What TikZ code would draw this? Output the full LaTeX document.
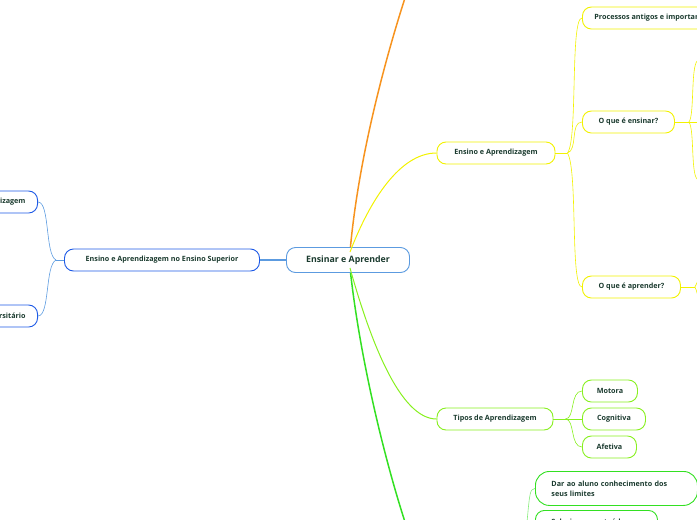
\documentclass[tikz,border=0pt]{standalone}
\usepackage{fontspec}
\setmainfont{Open Sans}
\definecolor{txt}{HTML}{1B3B2F}
\definecolor{cblue}{HTML}{1E5AE6}
\definecolor{lblue}{HTML}{5C9BE0}
\definecolor{cyel}{HTML}{F2F200}
\definecolor{lgreen}{HTML}{88F020}
\definecolor{cgreen}{HTML}{33E022}
\definecolor{corange}{HTML}{F7931E}
\tikzset{
 nd/.style={draw,rounded corners=9pt,line width=0.9pt,fill=white,text=txt,font=\bfseries\fontsize{7.2}{10}\selectfont,inner xsep=12pt,minimum height=22pt,align=left},
 yl/.style={nd,draw=cyel},
 bl/.style={nd,draw=cblue},
 lg/.style={nd,draw=lgreen},
 gr/.style={nd,draw=cgreen},
 cn/.style={line width=0.6pt},
}
\begin{document}
\begin{tikzpicture}[x=1pt,y=-1pt]
\useasboundingbox (0,0) rectangle (697,520);
\clip (0,0) rectangle (697,520);
% main branches
\coordinate (top) at (405,-2);
\coordinate (bot) at (405,522);
\draw[corange,line width=1.5pt] (350,252) .. controls (358,160) and (385,60) .. (top);
\draw[cgreen,line width=1.5pt] (350,268) .. controls (360,360) and (385,460) .. (bot);
\node[nd,draw=lblue,font=\bfseries\fontsize{8.8}{10}\selectfont,minimum height=25pt,minimum width=123pt] (c) at (348,260) {Ensinar e Aprender};
% left
\node[bl,minimum width=195pt] (es) at (162,260) {Ensino e Aprendizagem no Ensino Superior};
\node[bl,anchor=east] (l1) at (38,202) {Ensino e Aprendizagem};
\node[bl,anchor=east] (l2) at (38,316) {Docente Universitário};
\draw[lblue,line width=1.2pt] (c.west) -- (es.east);
\draw[lblue,cn] (es.west) -- ++(-8,0) coordinate (lb);
\draw[lblue,cn] (lb) .. controls (45,255) and (50,202) .. (l1.east);
\draw[lblue,cn] (lb) .. controls (45,265) and (50,316) .. (l2.east);
% yellow
\node[yl,minimum width=118pt] (ea) at (496,153) {Ensino e Aprendizagem};
\draw[cyel,line width=1pt] (350,252) .. controls (370,200) and (400,153) .. (ea.west);
\node[yl,anchor=west] (p1) at (582,18) {Processos antigos e importantes};
\node[yl,anchor=west,minimum width=92pt] (p2) at (582,122) {O que é ensinar?};
\node[yl,anchor=west,minimum width=98pt] (p3) at (582,287) {O que é aprender?};
\draw[cyel,cn] (ea.east) -- ++(12,0) coordinate (yb);
\draw[cyel,cn] (yb) .. controls (578,140) and (570,18) .. (p1.west);
\draw[cyel,cn] (yb) .. controls (578,150) and (570,122) .. (p2.west);
\draw[cyel,cn] (yb) .. controls (578,170) and (570,287) .. (p3.west);
\draw[cyel,cn] (p2.east) -- ++(14,0) coordinate (y2);
\coordinate (e1) at (699,60); \coordinate (e2) at (699,122); \coordinate (e3) at (699,180);
\draw[cyel,cn] (y2) .. controls (695,115) and (690,60) .. (e1);
\draw[cyel,cn] (y2) -- (e2);
\draw[cyel,cn] (y2) .. controls (695,130) and (690,180) .. (e3);
\draw[cyel,cn] (p3.east) -- ++(14,0) coordinate (y3);
\coordinate (e4) at (699,278); \coordinate (e5) at (699,300);
\draw[cyel,cn] (y3) .. controls (696,285) .. (e4);
\draw[cyel,cn] (y3) .. controls (696,289) .. (e5);
% light green
\node[lg,minimum width=116pt] (tp) at (495,419) {Tipos de Aprendizagem};
\draw[lgreen,line width=1pt] (350,268) .. controls (370,340) and (400,419) .. (tp.west);
\node[lg,anchor=west,minimum width=55pt] (m1) at (582,391) {Motora};
\node[lg,anchor=west,minimum width=63pt] (m2) at (582,419) {Cognitiva};
\node[lg,anchor=west,minimum width=54pt] (m3) at (582,447) {Afetiva};
\draw[lgreen,cn] (tp.east) -- ++(12,0) coordinate (gb);
\draw[lgreen,cn] (gb) .. controls (575,419) and (570,391) .. (m1.west);
\draw[lgreen,cn] (gb) -- (m2.west);
\draw[lgreen,cn] (gb) .. controls (575,419) and (570,447) .. (m3.west);
% green
\node[gr,anchor=north west,text width=130pt,minimum height=34pt,rounded corners=14pt,inner xsep=16pt] (d1) at (535,471) {\raggedright Dar ao aluno conhecimento dos seus limites};
\node[gr,anchor=north west,text width=90pt,inner xsep=16pt] (d2) at (535,510) {Selecionar conteúdos};
\coordinate (gs) at (527,522);
\draw[cgreen!60,cn] (gs) .. controls (530,490) .. (d1.west);
\end{tikzpicture}
\end{document}
